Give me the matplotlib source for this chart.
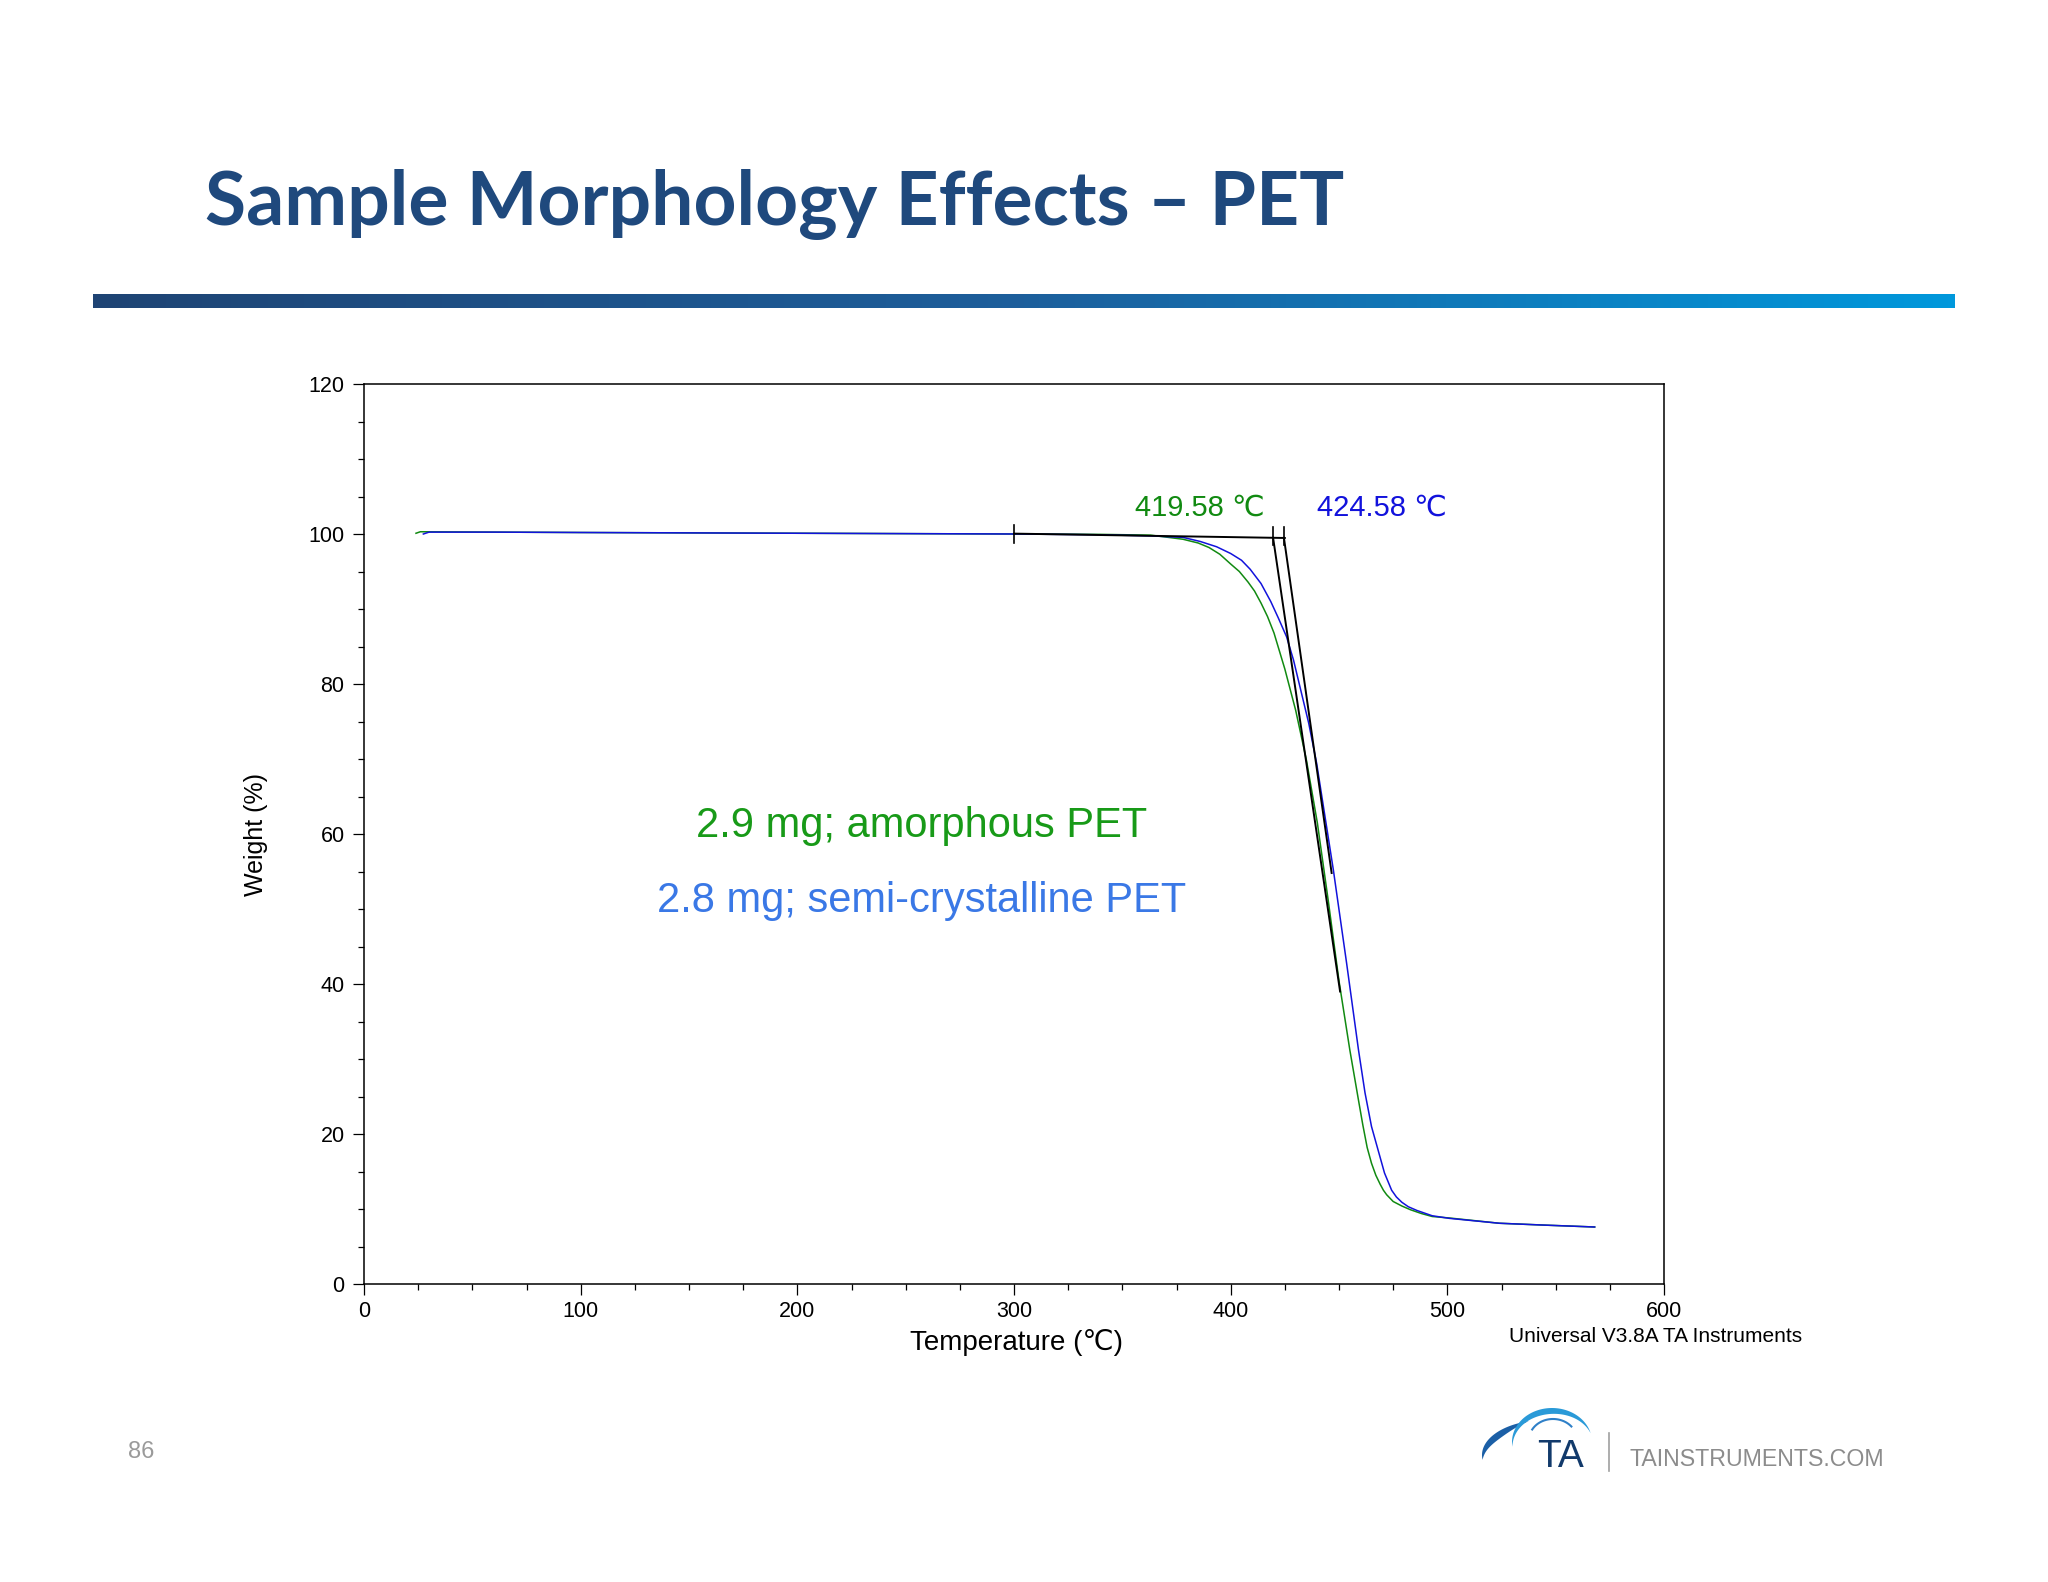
import numpy as np
import matplotlib
matplotlib.use("Agg")
import matplotlib.pyplot as plt
from matplotlib.ticker import MultipleLocator
from matplotlib.colors import LinearSegmentedColormap
from matplotlib.patches import Polygon

plt.rcParams['font.family'] = ['Liberation Sans', 'DejaVu Sans']

# TGA data
green_temp = [24.0, 26.0, 60, 100, 150, 200, 250, 300, 340, 363, 378, 385, 390, 395,
              400, 404, 408, 411, 414, 417, 420, 425, 430, 435, 440, 445, 450, 455,
              459, 461, 463, 465, 467, 469, 470.5, 472, 475, 479, 483, 488, 493, 501,
              524, 545, 568]
green_weight = [100.1, 100.3, 100.25, 100.2, 100.15, 100.1, 100.05, 100.0, 99.95, 99.85,
                99.3, 98.8, 98.2, 97.3, 96.0, 95.0, 93.6, 92.4, 90.8, 89.0, 86.8, 82.0,
                76.5, 69.8, 61.5, 51.2, 40.4, 31.2, 24.5, 21.2, 18.2, 16.1, 14.5, 13.3,
                12.5, 11.9, 11.0, 10.4, 9.9, 9.4, 9.0, 8.8, 8.1, 7.85, 7.6]

blue_temp = [27.4, 30, 60, 100, 150, 200, 250, 300, 340, 363, 378, 386, 393.5, 400,
             405, 409, 414, 418.5, 422, 425.8, 429, 432, 436, 439.7, 447.4, 453.5, 459,
             462, 465, 468, 471, 474.3, 476.5, 479, 482, 486, 489, 493, 501, 524, 545,
             568]
blue_weight = [100.0, 100.25, 100.25, 100.2, 100.15, 100.1, 100.05, 100.0, 99.9, 99.75,
               99.55, 99.0, 98.3, 97.4, 96.5, 95.3, 93.4, 91.0, 88.8, 86.3, 83.2, 79.6,
               74.8, 69.4, 55.2, 42.8, 31.2, 25.5, 21.0, 17.9, 14.8, 12.5, 11.6, 10.9,
               10.3, 9.8, 9.5, 9.1, 8.75, 8.1, 7.85, 7.6]

# onset construction (baseline + inflection tangents)
baseline_temp = [300, 425]
baseline_weight = [100.05, 99.47]
onset_temps = [419.58, 424.58]
onset_weight = 99.5
tangent_end_temp = [450.5, 446.6]
tangent_end_weight = [39.0, 54.8]
onset_labels = ['419.58 ℃', '424.58 ℃']

green_c = '#118a11'
blue_c = '#1212dc'

W, H = 2048, 1582
fig = plt.figure(figsize=(W / 100, H / 100), dpi=100)

# page overlay in pixel coordinates
bg = fig.add_axes([0, 0, 1, 1], zorder=0)
bg.set_xlim(0, W)
bg.set_ylim(H, 0)
bg.axis('off')

grad = np.linspace(0, 1, 512).reshape(1, -1)
cmap = LinearSegmentedColormap.from_list('bar', ['#1f4474', '#1d5f9c', '#0098dc'])
bg.imshow(grad, cmap=cmap, extent=[93, 1955, 308, 294], aspect='auto')
bg.set_xlim(0, W)
bg.set_ylim(H, 0)

bg.text(205, 205, 'Sample Morphology Effects – PET', fontsize=54, fontweight='bold',
        family=['Lato', 'DejaVu Sans'], color='#1f497d', ha='left', va='center')
bg.text(141, 1452, '86', fontsize=17, color='#9a9a9a', ha='center', va='center')

# logo
def crescent(cx, cy, a, b, t0, t1, w, color):
    t = np.radians(np.linspace(t0, t1, 80))
    s = np.sin(np.linspace(0, np.pi, 80))
    xo = cx + a * np.cos(t)
    yo = cy - b * np.sin(t)
    xi = cx + (a - w * s) * np.cos(t)
    yi = cy - (b - w * s) * np.sin(t)
    pts = np.column_stack([np.r_[xo, xi[::-1]], np.r_[yo, yi[::-1]]])
    bg.add_patch(Polygon(pts, closed=True, color=color, lw=0))

crescent(1545, 1455, 63, 35, 105, 188, 7, '#1b5fa6')
crescent(1552, 1442, 40, 34, 15, 188, 6, '#2a9ad8')
tt = np.radians(np.linspace(40, 150, 50))
bg.plot(1553 + 24 * np.cos(tt), 1440 - 21 * np.sin(tt), color='#2f80c8', lw=1.5)
bg.text(1560, 1457, 'TA', fontsize=28, color='#123a6b', ha='center', va='center')
bg.plot([1609, 1609], [1433, 1471], color='#a0a0a0', lw=1.2)
bg.text(1630, 1460, 'TAINSTRUMENTS.COM', fontsize=16.7, color='#8c8c8c', ha='left', va='center')

# main chart
ax = fig.add_axes([364 / W, 1 - 1284 / H, 1300 / W, 900 / H], zorder=1)
ax.plot(green_temp, green_weight, color=green_c, lw=1.1)
ax.plot(blue_temp, blue_weight, color=blue_c, lw=1.1)

ax.plot(baseline_temp, baseline_weight, color='black', lw=1.4)
ax.plot([300, 300], [98.8, 101.2], color='black', lw=1.2)
for t0, te, we in zip(onset_temps, tangent_end_temp, tangent_end_weight):
    ax.plot([t0, te], [onset_weight, we], color='black', lw=1.4)
    ax.plot([t0, t0], [98.5, 101.0], color='black', lw=1.2)

ax.text(415.8, 102.4, onset_labels[0], color=green_c, fontsize=21, ha='right', va='baseline')
ax.text(440.0, 102.4, onset_labels[1], color=blue_c, fontsize=21, ha='left', va='baseline')

ax.text(257.5, 61.0, '2.9 mg; amorphous PET', color='#189a18', fontsize=30,
        ha='center', va='center')
ax.text(257.5, 51.1, '2.8 mg; semi-crystalline PET', color='#3a78e6', fontsize=30,
        ha='center', va='center')

ax.set_xlim(0, 600)
ax.set_ylim(0, 120)
ax.xaxis.set_major_locator(MultipleLocator(100))
ax.xaxis.set_minor_locator(MultipleLocator(25))
ax.yaxis.set_major_locator(MultipleLocator(20))
ax.yaxis.set_minor_locator(MultipleLocator(5))
ax.tick_params(which='major', direction='out', length=8, width=0.9, labelsize=15.5)
ax.tick_params(axis='y', which='major', pad=6)
ax.tick_params(axis='x', which='major', pad=4)
ax.tick_params(which='minor', direction='out', length=4, width=0.9)
for sp in ax.spines.values():
    sp.set_linewidth(1.1)

bg.text(256, 834, 'Weight (%)', fontsize=18, rotation=90, ha='center', va='center')
bg.text(1016, 1343, 'Temperature (℃)', fontsize=20, ha='center', va='center')
bg.text(1656, 1337, 'Universal V3.8A TA Instruments', fontsize=15, ha='center', va='center')

fig.savefig('out.png', dpi=100, facecolor='white')
